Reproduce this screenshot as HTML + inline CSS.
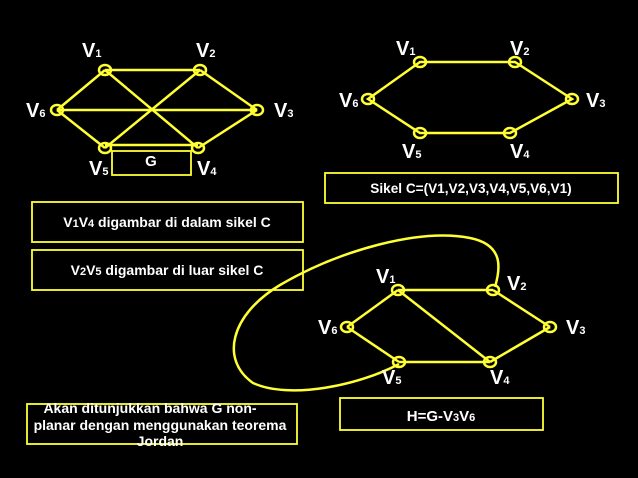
<!DOCTYPE html>
<html><head><meta charset="utf-8"><style>
html,body{margin:0;padding:0;background:#000;}
svg{display:block;}
text{font-family:"Liberation Sans",sans-serif;font-weight:bold;fill:#fff;}
.v{font-size:20px;}
.s{font-size:11px;}
.t{font-size:14px;}
</style></head><body>
<svg width="638" height="478" viewBox="0 0 638 478" xmlns="http://www.w3.org/2000/svg">
<rect width="638" height="478" fill="#000"/>
<g stroke="#ffff33" stroke-width="2.5" fill="none">
<line x1="105" y1="70" x2="200" y2="70"/>
<line x1="105" y1="70" x2="57" y2="110"/>
<line x1="105" y1="70" x2="198" y2="148"/>
<line x1="200" y1="70" x2="257" y2="110"/>
<line x1="200" y1="70" x2="105" y2="148"/>
<line x1="57" y1="110" x2="257" y2="110"/>
<line x1="57" y1="110" x2="105" y2="148"/>
<line x1="257" y1="110" x2="198" y2="148"/>
<line x1="105" y1="145" x2="198" y2="145"/>
<rect x="112" y="151" width="79" height="24" stroke-width="1.8"/>
<ellipse cx="105" cy="70" rx="6" ry="5"/><ellipse cx="200" cy="70" rx="6" ry="5"/>
<ellipse cx="57" cy="110" rx="6" ry="5"/><ellipse cx="257" cy="110" rx="6" ry="5"/>
<ellipse cx="105" cy="148" rx="6" ry="5"/><ellipse cx="198" cy="148" rx="6" ry="5"/>
<polygon points="420,62 515,62 572,99 510,133 420,133 368,99"/>
<ellipse cx="420" cy="62" rx="6" ry="5"/><ellipse cx="515" cy="62" rx="6" ry="5"/>
<ellipse cx="572" cy="99" rx="6" ry="5"/><ellipse cx="510" cy="133" rx="6" ry="5"/>
<ellipse cx="420" cy="133" rx="6" ry="5"/><ellipse cx="368" cy="99" rx="6" ry="5"/>
<rect x="325" y="173" width="293" height="30" stroke-width="1.8"/>
<line x1="398" y1="290" x2="493" y2="290"/>
<line x1="398" y1="290" x2="347" y2="327"/>
<line x1="398" y1="290" x2="490" y2="362"/>
<line x1="493" y1="290" x2="550" y2="327"/>
<line x1="347" y1="327" x2="399" y2="362"/>
<line x1="550" y1="327" x2="490" y2="362"/>
<line x1="399" y1="362" x2="490" y2="362"/>
<path d="M495,287 C500,270 505,245 470,238 C420,228 340,250 280,285 C230,315 220,360 253,383 C290,400 360,385 399,364"/>
<ellipse cx="398" cy="290" rx="6" ry="5"/><ellipse cx="493" cy="290" rx="6" ry="5"/>
<ellipse cx="550" cy="327" rx="6" ry="5"/><ellipse cx="490" cy="362" rx="6" ry="5"/>
<ellipse cx="399" cy="362" rx="6" ry="5"/><ellipse cx="347" cy="327" rx="6" ry="5"/>
<rect x="340" y="398" width="203" height="32" stroke-width="1.8"/>
<rect x="32" y="202" width="271" height="40" stroke-width="1.8"/>
<rect x="32" y="250" width="271" height="40" stroke-width="1.8"/>
<rect x="27" y="404" width="270" height="40" stroke-width="1.8"/>
</g>
<text class="v" x="82" y="57">V<tspan class="s">1</tspan></text>
<text class="v" x="196" y="57">V<tspan class="s">2</tspan></text>
<text class="v" x="26" y="117">V<tspan class="s">6</tspan></text>
<text class="v" x="274" y="117">V<tspan class="s">3</tspan></text>
<text class="v" x="89" y="175">V<tspan class="s">5</tspan></text>
<text class="v" x="197" y="175">V<tspan class="s">4</tspan></text>
<text x="151" y="166" text-anchor="middle" style="font-size:15px">G</text>
<text class="v" x="396" y="55">V<tspan class="s">1</tspan></text>
<text class="v" x="510" y="55">V<tspan class="s">2</tspan></text>
<text class="v" x="339" y="107">V<tspan class="s">6</tspan></text>
<text class="v" x="586" y="107">V<tspan class="s">3</tspan></text>
<text class="v" x="402" y="158">V<tspan class="s">5</tspan></text>
<text class="v" x="510" y="158">V<tspan class="s">4</tspan></text>
<text x="471" y="193" text-anchor="middle" style="font-size:13.6px">Sikel C=(V1,V2,V3,V4,V5,V6,V1)</text>
<text class="v" x="376" y="283">V<tspan class="s">1</tspan></text>
<text class="v" x="507" y="290">V<tspan class="s">2</tspan></text>
<text class="v" x="318" y="334">V<tspan class="s">6</tspan></text>
<text class="v" x="566" y="334">V<tspan class="s">3</tspan></text>
<text class="v" x="382" y="384">V<tspan class="s">5</tspan></text>
<text class="v" x="490" y="384">V<tspan class="s">4</tspan></text>
<text x="441" y="421" text-anchor="middle" style="font-size:15px">H=G-V<tspan class="s">3</tspan>V<tspan class="s">6</tspan></text>
<text class="t" x="167" y="227" text-anchor="middle">V<tspan class="s">1</tspan>V<tspan class="s">4</tspan> digambar di dalam sikel C</text>
<text class="t" x="167" y="275" text-anchor="middle">V<tspan class="s">2</tspan>V<tspan class="s">5</tspan> digambar di luar sikel C</text>
<text class="t" x="150" y="413" text-anchor="middle">Akan ditunjukkan bahwa G non-</text>
<text class="t" x="160" y="430" text-anchor="middle">planar dengan menggunakan teorema</text>
<text class="t" x="160" y="446" text-anchor="middle">Jordan</text>
</svg>
</body></html>
